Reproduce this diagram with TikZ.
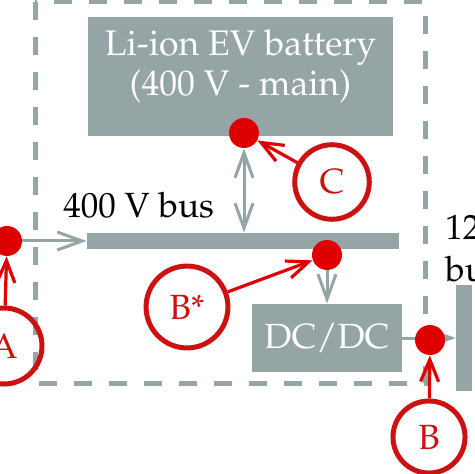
\documentclass[tikz,border=0pt]{standalone}
\usepackage[T1]{fontenc}
\usepackage{mathpazo}
\usetikzlibrary{arrows.meta}

\definecolor{boxgray}{RGB}{149,164,164}
\definecolor{dotred}{RGB}{222,0,0}
\definecolor{ringred}{RGB}{205,16,16}

\tikzset{
  unit/.style={fill=boxgray, text=white, inner sep=0pt},
  probe/.style={circle, fill=dotred, inner sep=0pt, minimum size=15pt},
  marker/.style={circle, draw=ringred, line width=2.5pt, text=ringred, inner sep=7pt},
  flow/.style={draw=boxgray, line width=1.5pt, >={Straight Barb[length=12.5pt,width=9pt]}},
  pointer/.style={draw=dotred, line width=1.6pt, -{Straight Barb[length=11pt,width=9pt]}},
  tag/.style={anchor=base west, inner sep=0pt}
}

\begin{document}
\begin{tikzpicture}[x=0.5pt, y=-0.5pt, font=\fontsize{17.5}{21}\selectfont]
\useasboundingbox (0,0) rectangle (474,474);

% enclosure of the vehicle side
\draw[boxgray, line width=2.5pt, dash pattern=on 9pt off 8.5pt] (35,2) rectangle (425,383);

% blocks and buses
\node[unit, minimum width=152.5pt, minimum height=59.5pt] (battery) at (240.5,76.5) {};
\node[text=white, align=center, font=\fontsize{17.8}{20}\selectfont] (batterytext) at (240.5,66) {Li-ion EV battery\\(400 V - main)};
\node[unit, minimum width=156pt, minimum height=8pt] (bus400) at (243,241) {};
\node[unit, minimum width=75pt, minimum height=34pt] (dcdc) at (327,338) {DC/DC};
\node[unit, minimum width=8pt, minimum height=53pt] (bus12) at (464,338) {};

\node[tag] (bus400label) at (63,218) {400 V bus};
\node[tag] (bus12label) at (445,240) {12 V};
\node[tag] (bus12labelb) at (445,282) {bus};

\draw[flow, ->] (dcdc.east) -- (bus12.west);

% measuring points
\node[probe] (dotC) at (244,133) {};
\node[probe] (dotBs) at (327,255) {};
\node[probe] (dotA) at (7,241) {};
\node[probe] (dotB) at (430,340) {};

\draw[flow, <->] (dotC.south) -- (dotC.south |- bus400.north);
\draw[flow, ->] (dotBs.south) -- (dcdc.north);
\draw[flow, ->] (dotA.east) -- (bus400.west);

\node[marker] (ringC) at (332,182) {C};
\node[marker] (ringBs) at (187,307) {B*};
\node[marker] (ringA) at (4,346) {A};
\node[marker] (ringB) at (429,437) {B};

\draw[pointer] (ringC) -- (dotC);
\draw[pointer] (ringBs) -- (dotBs);
\draw[pointer] (ringA) -- (dotA);
\draw[pointer] (ringB) -- (dotB);

\end{tikzpicture}
\end{document}
